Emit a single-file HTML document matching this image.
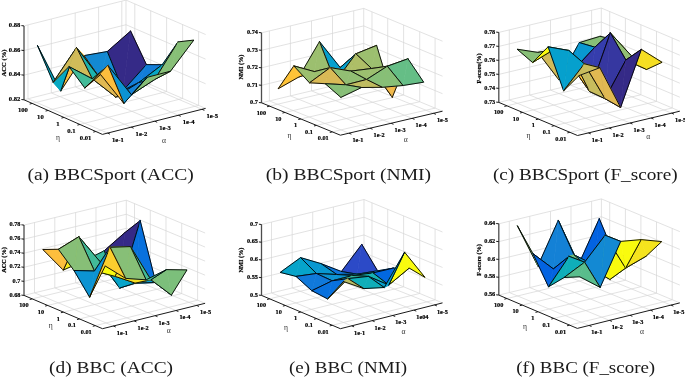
<!DOCTYPE html>
<html><head><meta charset="utf-8"><title>Parameter sensitivity</title>
<style>
html,body{margin:0;padding:0;background:#fff}
svg{display:block}
.g{stroke:#d6d6d6;stroke-width:0.7;fill:none}
.ax{stroke:#1a1a1a;stroke-width:1;fill:none}
.az{stroke:#4d4d4d;stroke-width:1.3;fill:none}
.e{stroke:#000;stroke-width:0.9;fill:none;stroke-linejoin:round;stroke-linecap:round}
.t,.u{font-family:"Liberation Serif",serif;font-weight:bold;font-size:6.6px;fill:#000;stroke:#000;stroke-width:0.2}
.u{font-size:6.25px}
.s{font-family:"Liberation Serif",serif;font-size:7.6px;fill:#333}
.c{font-family:"Liberation Serif",serif;font-size:16.6px;fill:#1a1a1a}
</style></head><body>
<svg width="685" height="377" viewBox="0 0 685 377">
<rect width="685" height="377" fill="#fff"/>
<path class="g" d="M107.6 133.09L28 98.79"/>
<path class="g" d="M28 98.79L28 24.89"/>
<path class="g" d="M32.2 103.42L134.8 77.8"/>
<path class="g" d="M134.8 77.8L134.8 3.9"/>
<path class="g" d="M131.2 127.14L51.3 92.89"/>
<path class="g" d="M51.3 92.89L51.3 18.99"/>
<path class="g" d="M48.1 110.44L150.7 84.67"/>
<path class="g" d="M150.7 84.67L150.7 10.77"/>
<path class="g" d="M154.8 121.2L75.2 86.85"/>
<path class="g" d="M75.2 86.85L75.2 12.95"/>
<path class="g" d="M64 117.45L166.6 91.55"/>
<path class="g" d="M166.6 91.55L166.6 17.65"/>
<path class="g" d="M178.4 115.25L98.6 80.93"/>
<path class="g" d="M98.6 80.93L98.6 7.03"/>
<path class="g" d="M79.9 124.47L182.6 98.46"/>
<path class="g" d="M182.6 98.46L182.6 24.56"/>
<path class="g" d="M202 109.31L121.8 75.06"/>
<path class="g" d="M121.8 75.06L121.8 1.16"/>
<path class="g" d="M95.8 131.49L198.6 105.37"/>
<path class="g" d="M198.6 105.37L198.6 31.47"/>
<path class="g" d="M24 99.8L126 74L205.6 108.4"/>
<path class="g" d="M24 75.17L126 49.37L205.6 83.77"/>
<path class="g" d="M24 50.53L126 24.73L205.6 59.13"/>
<path class="g" d="M24 25.9L126 0.1L205.6 34.5"/>
<path class="g" d="M126 74L126 0.1"/>
<path fill="#352a87" stroke="#352a87" stroke-width="0.7" d="M123.1 90.5L130.6 31L107.3 51.5Z"/>
<path class="e" d="M130.6 31L107.3 51.5L123.1 90.5"/>
<path fill="#352a87" stroke="#352a87" stroke-width="0.7" d="M123.1 90.5L146.4 64.6L130.6 31Z"/>
<path class="e" d="M123.1 90.5L146.4 64.6L130.6 31"/>
<path fill="#1389d3" stroke="#1389d3" stroke-width="0.7" d="M99.8 78L107.3 51.5L84 55.6Z"/>
<path class="e" d="M107.3 51.5L84 55.6L99.8 78"/>
<path fill="#1389d3" stroke="#1389d3" stroke-width="0.7" d="M99.8 78L123.1 90.5L107.3 51.5Z"/>
<path class="e" d="M99.8 78L123.1 90.5L107.3 51.5"/>
<path fill="#fdbe3d" stroke="#fdbe3d" stroke-width="0.7" d="M76.5 47.5L84 55.6L60.7 91Z"/>
<path class="e" d="M84 55.6L60.7 91L76.5 47.5"/>
<path fill="#fdbe3d" stroke="#fdbe3d" stroke-width="0.7" d="M76.5 47.5L99.8 78L84 55.6Z"/>
<path class="e" d="M76.5 47.5L99.8 78L84 55.6"/>
<path fill="#07a9c2" stroke="#07a9c2" stroke-width="0.7" d="M53.2 82.3L60.7 91L37.4 45.3Z"/>
<path class="e" d="M60.7 91L37.4 45.3L53.2 82.3"/>
<path fill="#07a9c2" stroke="#07a9c2" stroke-width="0.7" d="M53.2 82.3L76.5 47.5L60.7 91Z"/>
<path class="e" d="M53.2 82.3L76.5 47.5L60.7 91"/>
<path fill="#127dd8" stroke="#127dd8" stroke-width="0.7" d="M138.9 82.5L146.4 64.6L123.1 90.5Z"/>
<path class="e" d="M146.4 64.6L123.1 90.5L138.9 82.5"/>
<path fill="#127dd8" stroke="#127dd8" stroke-width="0.7" d="M138.9 82.5L162.2 64.7L146.4 64.6Z"/>
<path class="e" d="M138.9 82.5L162.2 64.7L146.4 64.6"/>
<path fill="#1181d6" stroke="#1181d6" stroke-width="0.7" d="M115.6 96.9L123.1 90.5L99.8 78Z"/>
<path class="e" d="M123.1 90.5L99.8 78L115.6 96.9"/>
<path fill="#1181d6" stroke="#1181d6" stroke-width="0.7" d="M115.6 96.9L138.9 82.5L123.1 90.5Z"/>
<path class="e" d="M115.6 96.9L138.9 82.5L123.1 90.5"/>
<path fill="#1db3af" stroke="#1db3af" stroke-width="0.7" d="M92.3 78.8L99.8 78L76.5 47.5Z"/>
<path class="e" d="M99.8 78L76.5 47.5L92.3 78.8"/>
<path fill="#1db3af" stroke="#1db3af" stroke-width="0.7" d="M92.3 78.8L115.6 96.9L99.8 78Z"/>
<path class="e" d="M92.3 78.8L115.6 96.9L99.8 78"/>
<path fill="#d1bb59" stroke="#d1bb59" stroke-width="0.7" d="M69 66.6L76.5 47.5L53.2 82.3Z"/>
<path class="e" d="M76.5 47.5L53.2 82.3L69 66.6"/>
<path fill="#d1bb59" stroke="#d1bb59" stroke-width="0.7" d="M69 66.6L92.3 78.8L76.5 47.5Z"/>
<path class="e" d="M69 66.6L92.3 78.8L76.5 47.5"/>
<path fill="#06a7c6" stroke="#06a7c6" stroke-width="0.7" d="M154.7 79.5L162.2 64.7L138.9 82.5Z"/>
<path class="e" d="M162.2 64.7L138.9 82.5L154.7 79.5"/>
<path fill="#06a7c6" stroke="#06a7c6" stroke-width="0.7" d="M154.7 79.5L178 41.9L162.2 64.7Z"/>
<path class="e" d="M154.7 79.5L178 41.9L162.2 64.7"/>
<path fill="#1481d6" stroke="#1481d6" stroke-width="0.7" d="M131.4 94.7L138.9 82.5L115.6 96.9Z"/>
<path class="e" d="M138.9 82.5L115.6 96.9L131.4 94.7"/>
<path fill="#1481d6" stroke="#1481d6" stroke-width="0.7" d="M131.4 94.7L154.7 79.5L138.9 82.5Z"/>
<path class="e" d="M131.4 94.7L154.7 79.5L138.9 82.5"/>
<path fill="#e1b952" stroke="#e1b952" stroke-width="0.7" d="M108.1 65.7L115.6 96.9L92.3 78.8Z"/>
<path class="e" d="M115.6 96.9L92.3 78.8L108.1 65.7"/>
<path fill="#e1b952" stroke="#e1b952" stroke-width="0.7" d="M108.1 65.7L131.4 94.7L115.6 96.9Z"/>
<path class="e" d="M108.1 65.7L131.4 94.7L115.6 96.9"/>
<path fill="#42bb98" stroke="#42bb98" stroke-width="0.7" d="M84.8 88L92.3 78.8L69 66.6Z"/>
<path class="e" d="M92.3 78.8L69 66.6L84.8 88"/>
<path fill="#42bb98" stroke="#42bb98" stroke-width="0.7" d="M84.8 88L108.1 65.7L92.3 78.8Z"/>
<path class="e" d="M84.8 88L108.1 65.7L92.3 78.8"/>
<path fill="#87bf77" stroke="#87bf77" stroke-width="0.7" d="M170.5 71.2L178 41.9L154.7 79.5Z"/>
<path class="e" d="M178 41.9L154.7 79.5L170.5 71.2"/>
<path fill="#87bf77" stroke="#87bf77" stroke-width="0.7" d="M170.5 71.2L193.8 40.1L178 41.9Z"/>
<path class="e" d="M170.5 71.2L193.8 40.1L178 41.9"/>
<path fill="#87bf77" stroke="#87bf77" stroke-width="0.7" d="M147.2 77.3L154.7 79.5L131.4 94.7Z"/>
<path class="e" d="M154.7 79.5L131.4 94.7L147.2 77.3"/>
<path fill="#87bf77" stroke="#87bf77" stroke-width="0.7" d="M147.2 77.3L170.5 71.2L154.7 79.5Z"/>
<path class="e" d="M147.2 77.3L170.5 71.2L154.7 79.5"/>
<path fill="#0c93d2" stroke="#0c93d2" stroke-width="0.7" d="M123.9 103.5L131.4 94.7L108.1 65.7Z"/>
<path class="e" d="M131.4 94.7L108.1 65.7L123.9 103.5"/>
<path fill="#0c93d2" stroke="#0c93d2" stroke-width="0.7" d="M123.9 103.5L147.2 77.3L131.4 94.7Z"/>
<path class="e" d="M123.9 103.5L147.2 77.3L131.4 94.7"/>
<path fill="#fdbe3d" stroke="#fdbe3d" stroke-width="0.7" d="M100.6 74.6L108.1 65.7L84.8 88Z"/>
<path class="e" d="M108.1 65.7L84.8 88L100.6 74.6"/>
<path fill="#fdbe3d" stroke="#fdbe3d" stroke-width="0.7" d="M100.6 74.6L123.9 103.5L108.1 65.7Z"/>
<path class="e" d="M100.6 74.6L123.9 103.5L108.1 65.7"/>
<path class="az" d="M24 25.9L24 99.8"/>
<path class="ax" d="M24 99.8L102.4 134.4"/>
<path class="ax" d="M102.4 134.4L205.6 108.4"/>
<path class="ax" d="M21.4 99.5L24 99.8"/>
<path class="ax" d="M21.4 74.87L24 75.17"/>
<path class="ax" d="M21.4 50.23L24 50.53"/>
<path class="ax" d="M21.4 25.6L24 25.9"/>
<path class="ax" d="M95.8 131.49L93.28 132.12"/>
<path class="ax" d="M79.9 124.47L77.38 125.11"/>
<path class="ax" d="M64 117.45L61.48 118.09"/>
<path class="ax" d="M48.1 110.44L45.58 111.07"/>
<path class="ax" d="M32.2 103.42L29.68 104.05"/>
<path class="ax" d="M107.6 133.09L109.98 134.14"/>
<path class="ax" d="M131.2 127.14L133.58 128.19"/>
<path class="ax" d="M154.8 121.2L157.18 122.25"/>
<path class="ax" d="M178.4 115.25L180.78 116.3"/>
<path class="ax" d="M202 109.31L204.38 110.36"/>
<text class="t" x="20.4" y="101" text-anchor="end">0.82</text>
<text class="t" x="20.4" y="76.37" text-anchor="end">0.84</text>
<text class="t" x="20.4" y="51.73" text-anchor="end">0.86</text>
<text class="t" x="20.4" y="27.1" text-anchor="end">0.88</text>
<text class="t" x="27.8" y="111.82" text-anchor="end">100</text>
<text class="t" x="43.7" y="118.84" text-anchor="end">10</text>
<text class="t" x="59.6" y="125.85" text-anchor="end">1</text>
<text class="t" x="75.5" y="132.87" text-anchor="end">0.1</text>
<text class="t" x="91.4" y="139.89" text-anchor="end">0.01</text>
<text class="t" x="112" y="141.99">1e-1</text>
<text class="t" x="135.6" y="136.04">1e-2</text>
<text class="t" x="159.2" y="130.1">1e-3</text>
<text class="t" x="182.8" y="124.15">1e-4</text>
<text class="t" x="206.4" y="118.21">1e-5</text>
<text class="t" transform="translate(6 63) rotate(-90)" text-anchor="middle">ACC (%)</text>
<text class="s" x="58.1" y="139.9" text-anchor="middle">η</text>
<text class="s" x="163.9" y="142.7" text-anchor="middle">α</text>
<text class="c" x="27.4" y="179.8" textLength="166.5" lengthAdjust="spacingAndGlyphs">(a) BBCSport (ACC)</text>
<path class="g" d="M349 133.18L269.4 100.91"/>
<path class="g" d="M269.4 100.91L269.4 30.91"/>
<path class="g" d="M269.6 106.13L372 81.85"/>
<path class="g" d="M372 81.85L372 11.85"/>
<path class="g" d="M370.1 128.22L290.4 95.9"/>
<path class="g" d="M290.4 95.9L290.4 25.9"/>
<path class="g" d="M285 112.45L387.7 88.39"/>
<path class="g" d="M387.7 88.39L387.7 18.39"/>
<path class="g" d="M391.1 123.28L311.5 90.86"/>
<path class="g" d="M311.5 90.86L311.5 20.86"/>
<path class="g" d="M300.8 118.94L403.6 95.01"/>
<path class="g" d="M403.6 95.01L403.6 25.01"/>
<path class="g" d="M412.1 118.35L332.5 85.85"/>
<path class="g" d="M332.5 85.85L332.5 15.85"/>
<path class="g" d="M316.5 125.39L419.7 101.71"/>
<path class="g" d="M419.7 101.71L419.7 31.71"/>
<path class="g" d="M433.5 113.32L353.7 80.79"/>
<path class="g" d="M353.7 80.79L353.7 10.79"/>
<path class="g" d="M332.3 131.87L435.1 108.12"/>
<path class="g" d="M435.1 108.12L435.1 38.12"/>
<path class="g" d="M261.5 102.8L363.7 78.4L442.5 111.2"/>
<path class="g" d="M261.5 85.3L363.7 60.9L442.5 93.7"/>
<path class="g" d="M261.5 67.8L363.7 43.4L442.5 76.2"/>
<path class="g" d="M261.5 50.3L363.7 25.9L442.5 58.7"/>
<path class="g" d="M261.5 32.8L363.7 8.4L442.5 41.2"/>
<path class="g" d="M363.7 78.4L363.7 8.4"/>
<path fill="#f1b94a" stroke="#f1b94a" stroke-width="0.7" d="M355.9 53.8L360.9 62L340.2 67.5Z"/>
<path class="e" d="M360.9 62L340.2 67.5L355.9 53.8"/>
<path fill="#f1b94a" stroke="#f1b94a" stroke-width="0.7" d="M355.9 53.8L376.6 45.4L360.9 62Z"/>
<path class="e" d="M355.9 53.8L376.6 45.4L360.9 62"/>
<path fill="#06a0cd" stroke="#06a0cd" stroke-width="0.7" d="M335.2 81.8L340.2 67.5L319.5 41.6Z"/>
<path class="e" d="M340.2 67.5L319.5 41.6L335.2 81.8"/>
<path fill="#06a0cd" stroke="#06a0cd" stroke-width="0.7" d="M335.2 81.8L355.9 53.8L340.2 67.5Z"/>
<path class="e" d="M335.2 81.8L355.9 53.8L340.2 67.5"/>
<path fill="#9cbf6f" stroke="#9cbf6f" stroke-width="0.7" d="M314.5 71.6L319.5 41.6L298.8 77Z"/>
<path class="e" d="M319.5 41.6L298.8 77L314.5 71.6"/>
<path fill="#9cbf6f" stroke="#9cbf6f" stroke-width="0.7" d="M314.5 71.6L335.2 81.8L319.5 41.6Z"/>
<path class="e" d="M314.5 71.6L335.2 81.8L319.5 41.6"/>
<path fill="#ffc337" stroke="#ffc337" stroke-width="0.7" d="M293.8 65.9L298.8 77L278.1 88.8Z"/>
<path class="e" d="M298.8 77L278.1 88.8L293.8 65.9"/>
<path fill="#ffc337" stroke="#ffc337" stroke-width="0.7" d="M293.8 65.9L314.5 71.6L298.8 77Z"/>
<path class="e" d="M293.8 65.9L314.5 71.6L298.8 77"/>
<path fill="#9cbf6f" stroke="#9cbf6f" stroke-width="0.7" d="M371.6 68.5L376.6 45.4L355.9 53.8Z"/>
<path class="e" d="M376.6 45.4L355.9 53.8L371.6 68.5"/>
<path fill="#9cbf6f" stroke="#9cbf6f" stroke-width="0.7" d="M371.6 68.5L392.3 97.3L376.6 45.4Z"/>
<path class="e" d="M371.6 68.5L392.3 97.3L376.6 45.4"/>
<path fill="#aebe67" stroke="#aebe67" stroke-width="0.7" d="M350.9 71.1L355.9 53.8L335.2 81.8Z"/>
<path class="e" d="M355.9 53.8L335.2 81.8L350.9 71.1"/>
<path fill="#aebe67" stroke="#aebe67" stroke-width="0.7" d="M350.9 71.1L371.6 68.5L355.9 53.8Z"/>
<path class="e" d="M350.9 71.1L371.6 68.5L355.9 53.8"/>
<path fill="#fdbe3d" stroke="#fdbe3d" stroke-width="0.7" d="M330.2 67.6L335.2 81.8L314.5 71.6Z"/>
<path class="e" d="M335.2 81.8L314.5 71.6L330.2 67.6"/>
<path fill="#fdbe3d" stroke="#fdbe3d" stroke-width="0.7" d="M330.2 67.6L350.9 71.1L335.2 81.8Z"/>
<path class="e" d="M330.2 67.6L350.9 71.1L335.2 81.8"/>
<path fill="#9cbf6f" stroke="#9cbf6f" stroke-width="0.7" d="M309.5 82.8L314.5 71.6L293.8 65.9Z"/>
<path class="e" d="M314.5 71.6L293.8 65.9L309.5 82.8"/>
<path fill="#9cbf6f" stroke="#9cbf6f" stroke-width="0.7" d="M309.5 82.8L330.2 67.6L314.5 71.6Z"/>
<path class="e" d="M309.5 82.8L330.2 67.6L314.5 71.6"/>
<path fill="#f1b94a" stroke="#f1b94a" stroke-width="0.7" d="M387.3 66.2L392.3 97.3L371.6 68.5Z"/>
<path class="e" d="M392.3 97.3L371.6 68.5L387.3 66.2"/>
<path fill="#f1b94a" stroke="#f1b94a" stroke-width="0.7" d="M387.3 66.2L408 58.8L392.3 97.3Z"/>
<path class="e" d="M387.3 66.2L408 58.8L392.3 97.3"/>
<path fill="#9cbf6f" stroke="#9cbf6f" stroke-width="0.7" d="M366.6 79.5L371.6 68.5L350.9 71.1Z"/>
<path class="e" d="M371.6 68.5L350.9 71.1L366.6 79.5"/>
<path fill="#9cbf6f" stroke="#9cbf6f" stroke-width="0.7" d="M366.6 79.5L387.3 66.2L371.6 68.5Z"/>
<path class="e" d="M366.6 79.5L387.3 66.2L371.6 68.5"/>
<path fill="#92bf73" stroke="#92bf73" stroke-width="0.7" d="M345.9 84.8L350.9 71.1L330.2 67.6Z"/>
<path class="e" d="M350.9 71.1L330.2 67.6L345.9 84.8"/>
<path fill="#92bf73" stroke="#92bf73" stroke-width="0.7" d="M345.9 84.8L366.6 79.5L350.9 71.1Z"/>
<path class="e" d="M345.9 84.8L366.6 79.5L350.9 71.1"/>
<path fill="#d9ba56" stroke="#d9ba56" stroke-width="0.7" d="M325.2 83.7L330.2 67.6L309.5 82.8Z"/>
<path class="e" d="M330.2 67.6L309.5 82.8L325.2 83.7"/>
<path fill="#d9ba56" stroke="#d9ba56" stroke-width="0.7" d="M325.2 83.7L345.9 84.8L330.2 67.6Z"/>
<path class="e" d="M325.2 83.7L345.9 84.8L330.2 67.6"/>
<path fill="#65be86" stroke="#65be86" stroke-width="0.7" d="M403 85.5L408 58.8L387.3 66.2Z"/>
<path class="e" d="M408 58.8L387.3 66.2L403 85.5"/>
<path fill="#65be86" stroke="#65be86" stroke-width="0.7" d="M403 85.5L423.7 82.2L408 58.8Z"/>
<path class="e" d="M403 85.5L423.7 82.2L408 58.8"/>
<path fill="#87bf77" stroke="#87bf77" stroke-width="0.7" d="M382.3 87.3L387.3 66.2L366.6 79.5Z"/>
<path class="e" d="M387.3 66.2L366.6 79.5L382.3 87.3"/>
<path fill="#87bf77" stroke="#87bf77" stroke-width="0.7" d="M382.3 87.3L403 85.5L387.3 66.2Z"/>
<path class="e" d="M382.3 87.3L403 85.5L387.3 66.2"/>
<path fill="#c0bc60" stroke="#c0bc60" stroke-width="0.7" d="M361.6 87.5L366.6 79.5L345.9 84.8Z"/>
<path class="e" d="M366.6 79.5L345.9 84.8L361.6 87.5"/>
<path fill="#c0bc60" stroke="#c0bc60" stroke-width="0.7" d="M361.6 87.5L382.3 87.3L366.6 79.5Z"/>
<path class="e" d="M361.6 87.5L382.3 87.3L366.6 79.5"/>
<path fill="#87bf77" stroke="#87bf77" stroke-width="0.7" d="M340.9 97.4L345.9 84.8L325.2 83.7Z"/>
<path class="e" d="M345.9 84.8L325.2 83.7L340.9 97.4"/>
<path fill="#87bf77" stroke="#87bf77" stroke-width="0.7" d="M340.9 97.4L361.6 87.5L345.9 84.8Z"/>
<path class="e" d="M340.9 97.4L361.6 87.5L345.9 84.8"/>
<path class="az" d="M261.5 32.8L261.5 102.8"/>
<path class="ax" d="M261.5 102.8L340.4 135.2"/>
<path class="ax" d="M340.4 135.2L442.5 111.2"/>
<path class="ax" d="M258.9 102.5L261.5 102.8"/>
<path class="ax" d="M258.9 85L261.5 85.3"/>
<path class="ax" d="M258.9 67.5L261.5 67.8"/>
<path class="ax" d="M258.9 50L261.5 50.3"/>
<path class="ax" d="M258.9 32.5L261.5 32.8"/>
<path class="ax" d="M332.3 131.87L329.77 132.47"/>
<path class="ax" d="M316.5 125.39L313.97 125.98"/>
<path class="ax" d="M300.8 118.94L298.27 119.53"/>
<path class="ax" d="M285 112.45L282.47 113.05"/>
<path class="ax" d="M269.6 106.13L267.07 106.72"/>
<path class="ax" d="M349 133.18L351.41 134.17"/>
<path class="ax" d="M370.1 128.22L372.51 129.21"/>
<path class="ax" d="M391.1 123.28L393.51 124.27"/>
<path class="ax" d="M412.1 118.35L414.51 119.33"/>
<path class="ax" d="M433.5 113.32L435.91 114.3"/>
<text class="u" x="257.9" y="104" text-anchor="end">0.7</text>
<text class="u" x="257.9" y="86.5" text-anchor="end">0.71</text>
<text class="u" x="257.9" y="69" text-anchor="end">0.72</text>
<text class="u" x="257.9" y="51.5" text-anchor="end">0.73</text>
<text class="u" x="257.9" y="34" text-anchor="end">0.74</text>
<text class="u" x="266" y="114.53" text-anchor="end">100</text>
<text class="u" x="281.4" y="120.85" text-anchor="end">10</text>
<text class="u" x="297.2" y="127.34" text-anchor="end">1</text>
<text class="u" x="312.9" y="133.79" text-anchor="end">0.1</text>
<text class="u" x="328.7" y="140.27" text-anchor="end">0.01</text>
<text class="u" x="352.4" y="142.08">1e-1</text>
<text class="u" x="373.5" y="137.12">1e-2</text>
<text class="u" x="394.5" y="132.18">1e-3</text>
<text class="u" x="415.5" y="127.25">1e-4</text>
<text class="u" x="436.9" y="122.22">1e-5</text>
<text class="u" transform="translate(243.3 67) rotate(-90)" text-anchor="middle">NMI (%)</text>
<text class="s" x="289.6" y="137.8" text-anchor="middle">η</text>
<text class="s" x="405.7" y="142.3" text-anchor="middle">α</text>
<text class="c" x="265.8" y="179.8" textLength="165.3" lengthAdjust="spacingAndGlyphs">(b) BBCSport (NMI)</text>
<path class="g" d="M588.4 132.91L509.3 99.9"/>
<path class="g" d="M509.3 99.9L509.3 29.9"/>
<path class="g" d="M506.9 105.81L609.7 81.55"/>
<path class="g" d="M609.7 81.55L609.7 11.55"/>
<path class="g" d="M609.1 127.99L529.7 95.04"/>
<path class="g" d="M529.7 95.04L529.7 25.04"/>
<path class="g" d="M522.6 112.41L625.4 88.19"/>
<path class="g" d="M625.4 88.19L625.4 18.19"/>
<path class="g" d="M630.1 123.01L550.5 90.09"/>
<path class="g" d="M550.5 90.09L550.5 20.09"/>
<path class="g" d="M538.4 119.06L640.9 94.75"/>
<path class="g" d="M640.9 94.75L640.9 24.75"/>
<path class="g" d="M651.1 118.02L570.9 85.24"/>
<path class="g" d="M570.9 85.24L570.9 15.24"/>
<path class="g" d="M554.2 125.7L656.5 101.35"/>
<path class="g" d="M656.5 101.35L656.5 31.35"/>
<path class="g" d="M671.6 113.15L591.6 80.31"/>
<path class="g" d="M591.6 80.31L591.6 10.31"/>
<path class="g" d="M569.9 132.3L672.2 107.99"/>
<path class="g" d="M672.2 107.99L672.2 37.99"/>
<path class="g" d="M498.8 102.4L601.3 78L679.8 111.2"/>
<path class="g" d="M498.8 88.4L601.3 64L679.8 97.2"/>
<path class="g" d="M498.8 74.4L601.3 50L679.8 83.2"/>
<path class="g" d="M498.8 60.4L601.3 36L679.8 69.2"/>
<path class="g" d="M498.8 46.4L601.3 22L679.8 55.2"/>
<path class="g" d="M498.8 32.4L601.3 8L679.8 41.2"/>
<path class="g" d="M601.3 78L601.3 8"/>
<path fill="#87bf77" stroke="#87bf77" stroke-width="0.7" d="M594.85 47.2L600.1 36.3L579.35 42.6Z"/>
<path class="e" d="M600.1 36.3L579.35 42.6L594.85 47.2"/>
<path fill="#87bf77" stroke="#87bf77" stroke-width="0.7" d="M594.85 47.2L615.6 40L600.1 36.3Z"/>
<path class="e" d="M594.85 47.2L615.6 40L600.1 36.3"/>
<path fill="#0998d1" stroke="#0998d1" stroke-width="0.7" d="M574.1 69.5L579.35 42.6L558.6 79.5Z"/>
<path class="e" d="M579.35 42.6L558.6 79.5L574.1 69.5"/>
<path fill="#0998d1" stroke="#0998d1" stroke-width="0.7" d="M574.1 69.5L594.85 47.2L579.35 42.6Z"/>
<path class="e" d="M574.1 69.5L594.85 47.2L579.35 42.6"/>
<path fill="#d1bb59" stroke="#d1bb59" stroke-width="0.7" d="M553.35 49.8L558.6 79.5L537.85 52.4Z"/>
<path class="e" d="M558.6 79.5L537.85 52.4L553.35 49.8"/>
<path fill="#d1bb59" stroke="#d1bb59" stroke-width="0.7" d="M553.35 49.8L574.1 69.5L558.6 79.5Z"/>
<path class="e" d="M553.35 49.8L574.1 69.5L558.6 79.5"/>
<path fill="#87bf77" stroke="#87bf77" stroke-width="0.7" d="M532.6 62.5L537.85 52.4L517.1 49.2Z"/>
<path class="e" d="M537.85 52.4L517.1 49.2L532.6 62.5"/>
<path fill="#87bf77" stroke="#87bf77" stroke-width="0.7" d="M532.6 62.5L553.35 49.8L537.85 52.4Z"/>
<path class="e" d="M532.6 62.5L553.35 49.8L537.85 52.4"/>
<path fill="#f9fb0e" stroke="#f9fb0e" stroke-width="0.7" d="M610.35 32.9L615.6 40L594.85 47.2Z"/>
<path class="e" d="M615.6 40L594.85 47.2L610.35 32.9"/>
<path fill="#f9fb0e" stroke="#f9fb0e" stroke-width="0.7" d="M610.35 32.9L631.1 55.5L615.6 40Z"/>
<path class="e" d="M610.35 32.9L631.1 55.5L615.6 40"/>
<path fill="#353dad" stroke="#353dad" stroke-width="0.7" d="M589.6 91.5L594.85 47.2L574.1 69.5Z"/>
<path class="e" d="M594.85 47.2L574.1 69.5L589.6 91.5"/>
<path fill="#353dad" stroke="#353dad" stroke-width="0.7" d="M589.6 91.5L610.35 32.9L594.85 47.2Z"/>
<path class="e" d="M589.6 91.5L610.35 32.9L594.85 47.2"/>
<path fill="#ffc337" stroke="#ffc337" stroke-width="0.7" d="M568.85 50.5L574.1 69.5L553.35 49.8Z"/>
<path class="e" d="M574.1 69.5L553.35 49.8L568.85 50.5"/>
<path fill="#ffc337" stroke="#ffc337" stroke-width="0.7" d="M568.85 50.5L589.6 91.5L574.1 69.5Z"/>
<path class="e" d="M568.85 50.5L589.6 91.5L574.1 69.5"/>
<path fill="#f9fb0e" stroke="#f9fb0e" stroke-width="0.7" d="M548.1 46.8L553.35 49.8L532.6 62.5Z"/>
<path class="e" d="M553.35 49.8L532.6 62.5L548.1 46.8"/>
<path fill="#f9fb0e" stroke="#f9fb0e" stroke-width="0.7" d="M548.1 46.8L568.85 50.5L553.35 49.8Z"/>
<path class="e" d="M548.1 46.8L568.85 50.5L553.35 49.8"/>
<path fill="#92bf73" stroke="#92bf73" stroke-width="0.7" d="M625.85 60L631.1 55.5L610.35 32.9Z"/>
<path class="e" d="M631.1 55.5L610.35 32.9L625.85 60"/>
<path fill="#92bf73" stroke="#92bf73" stroke-width="0.7" d="M625.85 60L646.6 69.5L631.1 55.5Z"/>
<path class="e" d="M625.85 60L646.6 69.5L631.1 55.5"/>
<path fill="#3637a0" stroke="#3637a0" stroke-width="0.7" d="M605.1 98.7L610.35 32.9L589.6 91.5Z"/>
<path class="e" d="M610.35 32.9L589.6 91.5L605.1 98.7"/>
<path fill="#3637a0" stroke="#3637a0" stroke-width="0.7" d="M605.1 98.7L625.85 60L610.35 32.9Z"/>
<path class="e" d="M605.1 98.7L625.85 60L610.35 32.9"/>
<path fill="#c8bc5d" stroke="#c8bc5d" stroke-width="0.7" d="M584.35 63.8L589.6 91.5L568.85 50.5Z"/>
<path class="e" d="M589.6 91.5L568.85 50.5L584.35 63.8"/>
<path fill="#c8bc5d" stroke="#c8bc5d" stroke-width="0.7" d="M584.35 63.8L605.1 98.7L589.6 91.5Z"/>
<path class="e" d="M584.35 63.8L605.1 98.7L589.6 91.5"/>
<path fill="#06a0cd" stroke="#06a0cd" stroke-width="0.7" d="M563.6 90.8L568.85 50.5L548.1 46.8Z"/>
<path class="e" d="M568.85 50.5L548.1 46.8L563.6 90.8"/>
<path fill="#06a0cd" stroke="#06a0cd" stroke-width="0.7" d="M563.6 90.8L584.35 63.8L568.85 50.5Z"/>
<path class="e" d="M563.6 90.8L584.35 63.8L568.85 50.5"/>
<path fill="#f5de21" stroke="#f5de21" stroke-width="0.7" d="M641.35 49.4L646.6 69.5L625.85 60Z"/>
<path class="e" d="M646.6 69.5L625.85 60L641.35 49.4"/>
<path fill="#f5de21" stroke="#f5de21" stroke-width="0.7" d="M641.35 49.4L662.1 62.3L646.6 69.5Z"/>
<path class="e" d="M641.35 49.4L662.1 62.3L646.6 69.5"/>
<path fill="#352a87" stroke="#352a87" stroke-width="0.7" d="M620.6 107.5L625.85 60L605.1 98.7Z"/>
<path class="e" d="M625.85 60L605.1 98.7L620.6 107.5"/>
<path fill="#352a87" stroke="#352a87" stroke-width="0.7" d="M620.6 107.5L641.35 49.4L625.85 60Z"/>
<path class="e" d="M620.6 107.5L641.35 49.4L625.85 60"/>
<path fill="#e1b952" stroke="#e1b952" stroke-width="0.7" d="M599.85 67.7L605.1 98.7L584.35 63.8Z"/>
<path class="e" d="M605.1 98.7L584.35 63.8L599.85 67.7"/>
<path fill="#e1b952" stroke="#e1b952" stroke-width="0.7" d="M599.85 67.7L620.6 107.5L605.1 98.7Z"/>
<path class="e" d="M599.85 67.7L620.6 107.5L605.1 98.7"/>
<path fill="#c8bc5d" stroke="#c8bc5d" stroke-width="0.7" d="M579.1 75.6L584.35 63.8L563.6 90.8Z"/>
<path class="e" d="M584.35 63.8L563.6 90.8L579.1 75.6"/>
<path fill="#c8bc5d" stroke="#c8bc5d" stroke-width="0.7" d="M579.1 75.6L599.85 67.7L584.35 63.8Z"/>
<path class="e" d="M579.1 75.6L599.85 67.7L584.35 63.8"/>
<path class="az" d="M498.8 32.4L498.8 102.4"/>
<path class="ax" d="M498.8 102.4L577.5 135.5"/>
<path class="ax" d="M577.5 135.5L679.8 111.2"/>
<path class="ax" d="M496.2 102.1L498.8 102.4"/>
<path class="ax" d="M496.2 88.1L498.8 88.4"/>
<path class="ax" d="M496.2 74.1L498.8 74.4"/>
<path class="ax" d="M496.2 60.1L498.8 60.4"/>
<path class="ax" d="M496.2 46.1L498.8 46.4"/>
<path class="ax" d="M496.2 32.1L498.8 32.4"/>
<path class="ax" d="M569.9 132.3L567.37 132.9"/>
<path class="ax" d="M554.2 125.7L551.67 126.3"/>
<path class="ax" d="M538.4 119.06L535.87 119.66"/>
<path class="ax" d="M522.6 112.41L520.07 113.01"/>
<path class="ax" d="M506.9 105.81L504.37 106.41"/>
<path class="ax" d="M588.4 132.91L590.8 133.92"/>
<path class="ax" d="M609.1 127.99L611.5 129"/>
<path class="ax" d="M630.1 123.01L632.5 124.01"/>
<path class="ax" d="M651.1 118.02L653.5 119.03"/>
<path class="ax" d="M671.6 113.15L674 114.16"/>
<text class="u" x="495.2" y="103.6" text-anchor="end">0.73</text>
<text class="u" x="495.2" y="89.6" text-anchor="end">0.74</text>
<text class="u" x="495.2" y="75.6" text-anchor="end">0.75</text>
<text class="u" x="495.2" y="61.6" text-anchor="end">0.76</text>
<text class="u" x="495.2" y="47.6" text-anchor="end">0.77</text>
<text class="u" x="495.2" y="33.6" text-anchor="end">0.78</text>
<text class="u" x="503.3" y="114.21" text-anchor="end">100</text>
<text class="u" x="519" y="120.81" text-anchor="end">10</text>
<text class="u" x="534.8" y="127.46" text-anchor="end">1</text>
<text class="u" x="550.6" y="134.1" text-anchor="end">0.1</text>
<text class="u" x="566.3" y="140.7" text-anchor="end">0.01</text>
<text class="u" x="591.8" y="141.81">1e-1</text>
<text class="u" x="612.5" y="136.89">1e-2</text>
<text class="u" x="633.5" y="131.91">1e-3</text>
<text class="u" x="654.5" y="126.92">1e-4</text>
<text class="u" x="675" y="122.05">1e-5</text>
<text class="u" transform="translate(481.2 68.5) rotate(-90)" text-anchor="middle">F-score(%)</text>
<text class="s" x="528.6" y="137.8" text-anchor="middle">η</text>
<text class="s" x="648.2" y="138.8" text-anchor="middle">α</text>
<text class="c" x="492.9" y="179.8" textLength="184.8" lengthAdjust="spacingAndGlyphs">(c) BBCSport (F_score)</text>
<path class="g" d="M113.4 326L34.5 292.84"/>
<path class="g" d="M34.5 292.84L34.5 222.54"/>
<path class="g" d="M32.2 298.88L134.5 273.91"/>
<path class="g" d="M134.5 273.91L134.5 203.61"/>
<path class="g" d="M134.1 320.88L54.8 287.9"/>
<path class="g" d="M54.8 287.9L54.8 217.6"/>
<path class="g" d="M47.7 305.45L150.3 280.49"/>
<path class="g" d="M150.3 280.49L150.3 210.19"/>
<path class="g" d="M155.1 315.68L75.6 282.84"/>
<path class="g" d="M75.6 282.84L75.6 212.54"/>
<path class="g" d="M63.4 312.11L166 287.02"/>
<path class="g" d="M166 287.02L166 216.72"/>
<path class="g" d="M176 310.5L96 277.88"/>
<path class="g" d="M96 277.88L96 207.58"/>
<path class="g" d="M79.5 318.94L181.7 293.56"/>
<path class="g" d="M181.7 293.56L181.7 223.26"/>
<path class="g" d="M196.6 305.4L116.5 272.89"/>
<path class="g" d="M116.5 272.89L116.5 202.59"/>
<path class="g" d="M95.3 325.65L197.6 300.18"/>
<path class="g" d="M197.6 300.18L197.6 229.88"/>
<path class="g" d="M24 295.4L126.3 270.5L205.1 303.3"/>
<path class="g" d="M24 281.34L126.3 256.44L205.1 289.24"/>
<path class="g" d="M24 267.28L126.3 242.38L205.1 275.18"/>
<path class="g" d="M24 253.22L126.3 228.32L205.1 261.12"/>
<path class="g" d="M24 239.16L126.3 214.26L205.1 247.06"/>
<path class="g" d="M24 225.1L126.3 200.2L205.1 233"/>
<path class="g" d="M126.3 270.5L126.3 200.2"/>
<path fill="#352a87" stroke="#352a87" stroke-width="0.7" d="M119.75 288L124.6 232.8L104.15 250.8Z"/>
<path class="e" d="M124.6 232.8L104.15 250.8L119.75 288"/>
<path fill="#352a87" stroke="#352a87" stroke-width="0.7" d="M119.75 288L140.2 220.6L124.6 232.8Z"/>
<path class="e" d="M119.75 288L140.2 220.6L124.6 232.8"/>
<path fill="#38b99e" stroke="#38b99e" stroke-width="0.7" d="M99.3 260.8L104.15 250.8L83.7 261Z"/>
<path class="e" d="M104.15 250.8L83.7 261L99.3 260.8"/>
<path fill="#38b99e" stroke="#38b99e" stroke-width="0.7" d="M99.3 260.8L119.75 288L104.15 250.8Z"/>
<path class="e" d="M99.3 260.8L119.75 288L104.15 250.8"/>
<path fill="#f5eb18" stroke="#f5eb18" stroke-width="0.7" d="M78.85 236.7L83.7 261L63.25 270.1Z"/>
<path class="e" d="M83.7 261L63.25 270.1L78.85 236.7"/>
<path fill="#f5eb18" stroke="#f5eb18" stroke-width="0.7" d="M78.85 236.7L99.3 260.8L83.7 261Z"/>
<path class="e" d="M78.85 236.7L99.3 260.8L83.7 261"/>
<path fill="#fdbe3d" stroke="#fdbe3d" stroke-width="0.7" d="M58.4 249.3L63.25 270.1L42.8 249.5Z"/>
<path class="e" d="M63.25 270.1L42.8 249.5L58.4 249.3"/>
<path fill="#fdbe3d" stroke="#fdbe3d" stroke-width="0.7" d="M58.4 249.3L78.85 236.7L63.25 270.1Z"/>
<path class="e" d="M58.4 249.3L78.85 236.7L63.25 270.1"/>
<path fill="#0871de" stroke="#0871de" stroke-width="0.7" d="M135.35 283.1L140.2 220.6L119.75 288Z"/>
<path class="e" d="M140.2 220.6L119.75 288L135.35 283.1"/>
<path fill="#0871de" stroke="#0871de" stroke-width="0.7" d="M135.35 283.1L155.8 282.5L140.2 220.6Z"/>
<path class="e" d="M135.35 283.1L155.8 282.5L140.2 220.6"/>
<path fill="#06a4ca" stroke="#06a4ca" stroke-width="0.7" d="M114.9 276.3L119.75 288L99.3 260.8Z"/>
<path class="e" d="M119.75 288L99.3 260.8L114.9 276.3"/>
<path fill="#06a4ca" stroke="#06a4ca" stroke-width="0.7" d="M114.9 276.3L135.35 283.1L119.75 288Z"/>
<path class="e" d="M114.9 276.3L135.35 283.1L119.75 288"/>
<path fill="#42bb98" stroke="#42bb98" stroke-width="0.7" d="M94.45 271L99.3 260.8L78.85 236.7Z"/>
<path class="e" d="M99.3 260.8L78.85 236.7L94.45 271"/>
<path fill="#42bb98" stroke="#42bb98" stroke-width="0.7" d="M94.45 271L114.9 276.3L99.3 260.8Z"/>
<path class="e" d="M94.45 271L114.9 276.3L99.3 260.8"/>
<path fill="#87bf77" stroke="#87bf77" stroke-width="0.7" d="M74 270.5L78.85 236.7L58.4 249.3Z"/>
<path class="e" d="M78.85 236.7L58.4 249.3L74 270.5"/>
<path fill="#87bf77" stroke="#87bf77" stroke-width="0.7" d="M74 270.5L94.45 271L78.85 236.7Z"/>
<path class="e" d="M74 270.5L94.45 271L78.85 236.7"/>
<path fill="#079ccf" stroke="#079ccf" stroke-width="0.7" d="M150.95 279.8L155.8 282.5L135.35 283.1Z"/>
<path class="e" d="M155.8 282.5L135.35 283.1L150.95 279.8"/>
<path fill="#079ccf" stroke="#079ccf" stroke-width="0.7" d="M150.95 279.8L171.4 295.1L155.8 282.5Z"/>
<path class="e" d="M150.95 279.8L171.4 295.1L155.8 282.5"/>
<path fill="#f5de21" stroke="#f5de21" stroke-width="0.7" d="M130.5 246.6L135.35 283.1L114.9 276.3Z"/>
<path class="e" d="M135.35 283.1L114.9 276.3L130.5 246.6"/>
<path fill="#f5de21" stroke="#f5de21" stroke-width="0.7" d="M130.5 246.6L150.95 279.8L135.35 283.1Z"/>
<path class="e" d="M130.5 246.6L150.95 279.8L135.35 283.1"/>
<path fill="#f9fb0e" stroke="#f9fb0e" stroke-width="0.7" d="M110.05 247.3L114.9 276.3L94.45 271Z"/>
<path class="e" d="M114.9 276.3L94.45 271L110.05 247.3"/>
<path fill="#f9fb0e" stroke="#f9fb0e" stroke-width="0.7" d="M110.05 247.3L130.5 246.6L114.9 276.3Z"/>
<path class="e" d="M110.05 247.3L130.5 246.6L114.9 276.3"/>
<path fill="#0c93d2" stroke="#0c93d2" stroke-width="0.7" d="M89.6 297.2L94.45 271L74 270.5Z"/>
<path class="e" d="M94.45 271L74 270.5L89.6 297.2"/>
<path fill="#0c93d2" stroke="#0c93d2" stroke-width="0.7" d="M89.6 297.2L110.05 247.3L94.45 271Z"/>
<path class="e" d="M89.6 297.2L110.05 247.3L94.45 271"/>
<path fill="#7cbf7b" stroke="#7cbf7b" stroke-width="0.7" d="M166.55 269.6L171.4 295.1L150.95 279.8Z"/>
<path class="e" d="M171.4 295.1L150.95 279.8L166.55 269.6"/>
<path fill="#7cbf7b" stroke="#7cbf7b" stroke-width="0.7" d="M166.55 269.6L187 269.9L171.4 295.1Z"/>
<path class="e" d="M166.55 269.6L187 269.9L171.4 295.1"/>
<path fill="#42bb98" stroke="#42bb98" stroke-width="0.7" d="M146.1 279.8L150.95 279.8L130.5 246.6Z"/>
<path class="e" d="M150.95 279.8L130.5 246.6L146.1 279.8"/>
<path fill="#42bb98" stroke="#42bb98" stroke-width="0.7" d="M146.1 279.8L166.55 269.6L150.95 279.8Z"/>
<path class="e" d="M146.1 279.8L166.55 269.6L150.95 279.8"/>
<path fill="#87bf77" stroke="#87bf77" stroke-width="0.7" d="M125.65 278.4L130.5 246.6L110.05 247.3Z"/>
<path class="e" d="M130.5 246.6L110.05 247.3L125.65 278.4"/>
<path fill="#87bf77" stroke="#87bf77" stroke-width="0.7" d="M125.65 278.4L146.1 279.8L130.5 246.6Z"/>
<path class="e" d="M125.65 278.4L146.1 279.8L130.5 246.6"/>
<path fill="#fcce2e" stroke="#fcce2e" stroke-width="0.7" d="M105.2 266L110.05 247.3L89.6 297.2Z"/>
<path class="e" d="M110.05 247.3L89.6 297.2L105.2 266"/>
<path fill="#fcce2e" stroke="#fcce2e" stroke-width="0.7" d="M105.2 266L125.65 278.4L110.05 247.3Z"/>
<path class="e" d="M105.2 266L125.65 278.4L110.05 247.3"/>
<path class="az" d="M24 225.1L24 295.4"/>
<path class="ax" d="M24 295.4L102.5 328.7"/>
<path class="ax" d="M102.5 328.7L205.1 303.3"/>
<path class="ax" d="M21.4 295.1L24 295.4"/>
<path class="ax" d="M21.4 281.04L24 281.34"/>
<path class="ax" d="M21.4 266.98L24 267.28"/>
<path class="ax" d="M21.4 252.92L24 253.22"/>
<path class="ax" d="M21.4 238.86L24 239.16"/>
<path class="ax" d="M21.4 224.8L24 225.1"/>
<path class="ax" d="M95.3 325.65L92.78 326.27"/>
<path class="ax" d="M79.5 318.94L76.98 319.57"/>
<path class="ax" d="M63.4 312.11L60.88 312.74"/>
<path class="ax" d="M47.7 305.45L45.18 306.08"/>
<path class="ax" d="M32.2 298.88L29.68 299.5"/>
<path class="ax" d="M113.4 326L115.79 327.02"/>
<path class="ax" d="M134.1 320.88L136.49 321.89"/>
<path class="ax" d="M155.1 315.68L157.49 316.69"/>
<path class="ax" d="M176 310.5L178.39 311.52"/>
<path class="ax" d="M196.6 305.4L198.99 306.42"/>
<text class="u" x="20.4" y="296.6" text-anchor="end">0.68</text>
<text class="u" x="20.4" y="282.54" text-anchor="end">0.7</text>
<text class="u" x="20.4" y="268.48" text-anchor="end">0.72</text>
<text class="u" x="20.4" y="254.42" text-anchor="end">0.74</text>
<text class="u" x="20.4" y="240.36" text-anchor="end">0.76</text>
<text class="u" x="20.4" y="226.3" text-anchor="end">0.78</text>
<text class="u" x="28.6" y="307.28" text-anchor="end">100</text>
<text class="u" x="44.1" y="313.85" text-anchor="end">10</text>
<text class="u" x="59.8" y="320.51" text-anchor="end">1</text>
<text class="u" x="75.9" y="327.34" text-anchor="end">0.1</text>
<text class="u" x="91.7" y="334.05" text-anchor="end">0.01</text>
<text class="u" x="116.8" y="334.9">1e-1</text>
<text class="u" x="137.5" y="329.78">1e-2</text>
<text class="u" x="158.5" y="324.58">1e-3</text>
<text class="u" x="179.4" y="319.4">1e-4</text>
<text class="u" x="200" y="314.3">1e-5</text>
<text class="u" transform="translate(6 260) rotate(-90)" text-anchor="middle">ACC (%)</text>
<text class="s" x="50.8" y="328.2" text-anchor="middle">η</text>
<text class="s" x="168.7" y="333.2" text-anchor="middle">α</text>
<text class="c" x="49" y="372.7" textLength="124.1" lengthAdjust="spacingAndGlyphs">(d) BBC (ACC)</text>
<path class="g" d="M351.7 325.84L271.5 292.96"/>
<path class="g" d="M271.5 292.96L271.5 222.06"/>
<path class="g" d="M269.6 298.82L372 273.71"/>
<path class="g" d="M372 273.71L372 202.81"/>
<path class="g" d="M372.2 320.66L292.2 287.91"/>
<path class="g" d="M292.2 287.91L292.2 217.01"/>
<path class="g" d="M285.4 305.49L387.7 280.21"/>
<path class="g" d="M387.7 280.21L387.7 209.31"/>
<path class="g" d="M392.8 315.46L312.7 282.91"/>
<path class="g" d="M312.7 282.91L312.7 212.01"/>
<path class="g" d="M300.8 311.99L403.6 286.79"/>
<path class="g" d="M403.6 286.79L403.6 215.89"/>
<path class="g" d="M413.9 310.13L333.4 277.86"/>
<path class="g" d="M333.4 277.86L333.4 206.96"/>
<path class="g" d="M316.5 318.61L419.7 293.46"/>
<path class="g" d="M419.7 293.46L419.7 222.56"/>
<path class="g" d="M434.5 304.92L353.7 272.91"/>
<path class="g" d="M353.7 272.91L353.7 202.01"/>
<path class="g" d="M332.3 325.28L435.1 299.84"/>
<path class="g" d="M435.1 299.84L435.1 228.94"/>
<path class="g" d="M261.5 295.4L364 270.4L442.5 302.9"/>
<path class="g" d="M261.5 277.67L364 252.67L442.5 285.17"/>
<path class="g" d="M261.5 259.95L364 234.95L442.5 267.45"/>
<path class="g" d="M261.5 242.22L364 217.22L442.5 249.72"/>
<path class="g" d="M261.5 224.5L364 199.5L442.5 232"/>
<path class="g" d="M364 270.4L364 199.5"/>
<path fill="#2c4ac7" stroke="#2c4ac7" stroke-width="0.7" d="M357.2 274.2L361.8 244.3L341.4 271.5Z"/>
<path class="e" d="M361.8 244.3L341.4 271.5L357.2 274.2"/>
<path fill="#2c4ac7" stroke="#2c4ac7" stroke-width="0.7" d="M357.2 274.2L377.6 270.8L361.8 244.3Z"/>
<path class="e" d="M357.2 274.2L377.6 270.8L361.8 244.3"/>
<path fill="#0d75dc" stroke="#0d75dc" stroke-width="0.7" d="M336.8 274.5L341.4 271.5L321 263.6Z"/>
<path class="e" d="M341.4 271.5L321 263.6L336.8 274.5"/>
<path fill="#0d75dc" stroke="#0d75dc" stroke-width="0.7" d="M336.8 274.5L357.2 274.2L341.4 271.5Z"/>
<path class="e" d="M336.8 274.5L357.2 274.2L341.4 271.5"/>
<path fill="#0998d1" stroke="#0998d1" stroke-width="0.7" d="M316.4 273.5L321 263.6L300.6 257.6Z"/>
<path class="e" d="M321 263.6L300.6 257.6L316.4 273.5"/>
<path fill="#0998d1" stroke="#0998d1" stroke-width="0.7" d="M316.4 273.5L336.8 274.5L321 263.6Z"/>
<path class="e" d="M316.4 273.5L336.8 274.5L321 263.6"/>
<path fill="#06a4ca" stroke="#06a4ca" stroke-width="0.7" d="M296 276.4L300.6 257.6L280.2 272.4Z"/>
<path class="e" d="M300.6 257.6L280.2 272.4L296 276.4"/>
<path fill="#06a4ca" stroke="#06a4ca" stroke-width="0.7" d="M296 276.4L316.4 273.5L300.6 257.6Z"/>
<path class="e" d="M296 276.4L316.4 273.5L300.6 257.6"/>
<path fill="#1485d4" stroke="#1485d4" stroke-width="0.7" d="M373 272.9L377.6 270.8L357.2 274.2Z"/>
<path class="e" d="M377.6 270.8L357.2 274.2L373 272.9"/>
<path fill="#1485d4" stroke="#1485d4" stroke-width="0.7" d="M373 272.9L393.4 268.1L377.6 270.8Z"/>
<path class="e" d="M373 272.9L393.4 268.1L377.6 270.8"/>
<path fill="#0998d1" stroke="#0998d1" stroke-width="0.7" d="M352.6 275.5L357.2 274.2L336.8 274.5Z"/>
<path class="e" d="M357.2 274.2L336.8 274.5L352.6 275.5"/>
<path fill="#0998d1" stroke="#0998d1" stroke-width="0.7" d="M352.6 275.5L373 272.9L357.2 274.2Z"/>
<path class="e" d="M352.6 275.5L373 272.9L357.2 274.2"/>
<path fill="#0c93d2" stroke="#0c93d2" stroke-width="0.7" d="M332.2 280.8L336.8 274.5L316.4 273.5Z"/>
<path class="e" d="M336.8 274.5L316.4 273.5L332.2 280.8"/>
<path fill="#0c93d2" stroke="#0c93d2" stroke-width="0.7" d="M332.2 280.8L352.6 275.5L336.8 274.5Z"/>
<path class="e" d="M332.2 280.8L352.6 275.5L336.8 274.5"/>
<path fill="#1079da" stroke="#1079da" stroke-width="0.7" d="M311.8 290.7L316.4 273.5L296 276.4Z"/>
<path class="e" d="M316.4 273.5L296 276.4L311.8 290.7"/>
<path fill="#1079da" stroke="#1079da" stroke-width="0.7" d="M311.8 290.7L332.2 280.8L316.4 273.5Z"/>
<path class="e" d="M311.8 290.7L332.2 280.8L316.4 273.5"/>
<path fill="#0268e1" stroke="#0268e1" stroke-width="0.7" d="M388.8 285L393.4 268.1L373 272.9Z"/>
<path class="e" d="M393.4 268.1L373 272.9L388.8 285"/>
<path fill="#0268e1" stroke="#0268e1" stroke-width="0.7" d="M388.8 285L409.2 268.1L393.4 268.1Z"/>
<path class="e" d="M388.8 285L409.2 268.1L393.4 268.1"/>
<path fill="#15b1b4" stroke="#15b1b4" stroke-width="0.7" d="M368.4 276.4L373 272.9L352.6 275.5Z"/>
<path class="e" d="M373 272.9L352.6 275.5L368.4 276.4"/>
<path fill="#15b1b4" stroke="#15b1b4" stroke-width="0.7" d="M368.4 276.4L388.8 285L373 272.9Z"/>
<path class="e" d="M368.4 276.4L388.8 285L373 272.9"/>
<path fill="#38b99e" stroke="#38b99e" stroke-width="0.7" d="M348 278.6L352.6 275.5L332.2 280.8Z"/>
<path class="e" d="M352.6 275.5L332.2 280.8L348 278.6"/>
<path fill="#38b99e" stroke="#38b99e" stroke-width="0.7" d="M348 278.6L368.4 276.4L352.6 275.5Z"/>
<path class="e" d="M348 278.6L368.4 276.4L352.6 275.5"/>
<path fill="#0871de" stroke="#0871de" stroke-width="0.7" d="M327.6 298.9L332.2 280.8L311.8 290.7Z"/>
<path class="e" d="M332.2 280.8L311.8 290.7L327.6 298.9"/>
<path fill="#0871de" stroke="#0871de" stroke-width="0.7" d="M327.6 298.9L348 278.6L332.2 280.8Z"/>
<path class="e" d="M327.6 298.9L348 278.6L332.2 280.8"/>
<path fill="#f9fb0e" stroke="#f9fb0e" stroke-width="0.7" d="M404.6 252.2L409.2 268.1L388.8 285Z"/>
<path class="e" d="M409.2 268.1L388.8 285L404.6 252.2"/>
<path fill="#f9fb0e" stroke="#f9fb0e" stroke-width="0.7" d="M404.6 252.2L425 277.4L409.2 268.1Z"/>
<path class="e" d="M404.6 252.2L425 277.4L409.2 268.1"/>
<path fill="#06a0cd" stroke="#06a0cd" stroke-width="0.7" d="M384.2 287.5L388.8 285L368.4 276.4Z"/>
<path class="e" d="M388.8 285L368.4 276.4L384.2 287.5"/>
<path fill="#06a0cd" stroke="#06a0cd" stroke-width="0.7" d="M384.2 287.5L404.6 252.2L388.8 285Z"/>
<path class="e" d="M384.2 287.5L404.6 252.2L388.8 285"/>
<path fill="#0faeb9" stroke="#0faeb9" stroke-width="0.7" d="M363.8 288.6L368.4 276.4L348 278.6Z"/>
<path class="e" d="M368.4 276.4L348 278.6L363.8 288.6"/>
<path fill="#0faeb9" stroke="#0faeb9" stroke-width="0.7" d="M363.8 288.6L384.2 287.5L368.4 276.4Z"/>
<path class="e" d="M363.8 288.6L384.2 287.5L368.4 276.4"/>
<path fill="#b7bd64" stroke="#b7bd64" stroke-width="0.7" d="M343.4 281.5L348 278.6L327.6 298.9Z"/>
<path class="e" d="M348 278.6L327.6 298.9L343.4 281.5"/>
<path fill="#b7bd64" stroke="#b7bd64" stroke-width="0.7" d="M343.4 281.5L363.8 288.6L348 278.6Z"/>
<path class="e" d="M343.4 281.5L363.8 288.6L348 278.6"/>
<path class="az" d="M261.5 224.5L261.5 295.4"/>
<path class="ax" d="M261.5 295.4L340.4 328.7"/>
<path class="ax" d="M340.4 328.7L442.5 302.9"/>
<path class="ax" d="M258.9 295.1L261.5 295.4"/>
<path class="ax" d="M258.9 277.37L261.5 277.67"/>
<path class="ax" d="M258.9 259.65L261.5 259.95"/>
<path class="ax" d="M258.9 241.92L261.5 242.22"/>
<path class="ax" d="M258.9 224.2L261.5 224.5"/>
<path class="ax" d="M332.3 325.28L329.78 325.92"/>
<path class="ax" d="M316.5 318.61L313.98 319.25"/>
<path class="ax" d="M300.8 311.99L298.28 312.62"/>
<path class="ax" d="M285.4 305.49L282.88 306.12"/>
<path class="ax" d="M269.6 298.82L267.08 299.46"/>
<path class="ax" d="M351.7 325.84L354.1 326.86"/>
<path class="ax" d="M372.2 320.66L374.6 321.68"/>
<path class="ax" d="M392.8 315.46L395.2 316.47"/>
<path class="ax" d="M413.9 310.13L416.3 311.14"/>
<path class="ax" d="M434.5 304.92L436.9 305.93"/>
<text class="u" x="257.9" y="296.6" text-anchor="end">0.5</text>
<text class="u" x="257.9" y="278.87" text-anchor="end">0.55</text>
<text class="u" x="257.9" y="261.15" text-anchor="end">0.6</text>
<text class="u" x="257.9" y="243.42" text-anchor="end">0.65</text>
<text class="u" x="257.9" y="225.7" text-anchor="end">0.7</text>
<text class="u" x="266" y="307.22" text-anchor="end">100</text>
<text class="u" x="281.8" y="313.89" text-anchor="end">10</text>
<text class="u" x="297.2" y="320.39" text-anchor="end">1</text>
<text class="u" x="312.9" y="327.01" text-anchor="end">0.1</text>
<text class="u" x="328.7" y="333.68" text-anchor="end">0.01</text>
<text class="u" x="354.1" y="334.74">1e-1</text>
<text class="u" x="374.6" y="329.56">1e-2</text>
<text class="u" x="395.2" y="324.36">1e-3</text>
<text class="u" x="416.3" y="319.03">1e04</text>
<text class="u" x="436.9" y="313.82">1e-5</text>
<text class="u" transform="translate(243.3 260) rotate(-90)" text-anchor="middle">NMI (%)</text>
<text class="s" x="286.1" y="329.6" text-anchor="middle">η</text>
<text class="s" x="403.4" y="334.4" text-anchor="middle">α</text>
<text class="c" x="289" y="372.7" textLength="118.2" lengthAdjust="spacingAndGlyphs">(e) BBC (NMI)</text>
<path class="g" d="M589.1 325.46L509.3 292.55"/>
<path class="g" d="M509.3 292.55L509.3 221.25"/>
<path class="g" d="M506.9 298.54L609.7 273.66"/>
<path class="g" d="M609.7 273.66L609.7 202.36"/>
<path class="g" d="M609.5 320.39L529.8 287.58"/>
<path class="g" d="M529.8 287.58L529.8 216.28"/>
<path class="g" d="M522.3 305.07L625.4 280.21"/>
<path class="g" d="M625.4 280.21L625.4 208.91"/>
<path class="g" d="M630 315.29L550.5 282.55"/>
<path class="g" d="M550.5 282.55L550.5 211.25"/>
<path class="g" d="M538 311.73L640.9 286.68"/>
<path class="g" d="M640.9 286.68L640.9 215.38"/>
<path class="g" d="M650.5 310.19L571 277.58"/>
<path class="g" d="M571 277.58L571 206.28"/>
<path class="g" d="M553.8 318.43L656.5 293.18"/>
<path class="g" d="M656.5 293.18L656.5 221.88"/>
<path class="g" d="M671 305.09L591.6 272.58"/>
<path class="g" d="M591.6 272.58L591.6 201.28"/>
<path class="g" d="M569.6 325.13L672.2 299.73"/>
<path class="g" d="M672.2 299.73L672.2 228.43"/>
<path class="g" d="M498.8 295.1L601.4 270.2L679.8 302.9"/>
<path class="g" d="M498.8 277.28L601.4 252.38L679.8 285.07"/>
<path class="g" d="M498.8 259.45L601.4 234.55L679.8 267.25"/>
<path class="g" d="M498.8 241.63L601.4 216.72L679.8 249.42"/>
<path class="g" d="M498.8 223.8L601.4 198.9L679.8 231.6"/>
<path class="g" d="M601.4 270.2L601.4 198.9"/>
<path fill="#0363e1" stroke="#0363e1" stroke-width="0.7" d="M594.4 265L599.3 218.6L578.8 264Z"/>
<path class="e" d="M599.3 218.6L578.8 264L594.4 265"/>
<path fill="#0363e1" stroke="#0363e1" stroke-width="0.7" d="M594.4 265L614.9 256L599.3 218.6Z"/>
<path class="e" d="M594.4 265L614.9 256L599.3 218.6"/>
<path fill="#0aacbe" stroke="#0aacbe" stroke-width="0.7" d="M573.9 254.8L578.8 264L558.3 220.3Z"/>
<path class="e" d="M578.8 264L558.3 220.3L573.9 254.8"/>
<path fill="#0aacbe" stroke="#0aacbe" stroke-width="0.7" d="M573.9 254.8L594.4 265L578.8 264Z"/>
<path class="e" d="M573.9 254.8L594.4 265L578.8 264"/>
<path fill="#1481d6" stroke="#1481d6" stroke-width="0.7" d="M553.4 268.9L558.3 220.3L537.8 266Z"/>
<path class="e" d="M558.3 220.3L537.8 266L553.4 268.9"/>
<path fill="#1481d6" stroke="#1481d6" stroke-width="0.7" d="M553.4 268.9L573.9 254.8L558.3 220.3Z"/>
<path class="e" d="M553.4 268.9L573.9 254.8L558.3 220.3"/>
<path fill="#87bf77" stroke="#87bf77" stroke-width="0.7" d="M532.9 253.6L537.8 266L517.3 225.6Z"/>
<path class="e" d="M537.8 266L517.3 225.6L532.9 253.6"/>
<path fill="#87bf77" stroke="#87bf77" stroke-width="0.7" d="M532.9 253.6L553.4 268.9L537.8 266Z"/>
<path class="e" d="M532.9 253.6L553.4 268.9L537.8 266"/>
<path fill="#352a87" stroke="#352a87" stroke-width="0.7" d="M610 279.4L614.9 256L594.4 265Z"/>
<path class="e" d="M614.9 256L594.4 265L610 279.4"/>
<path fill="#352a87" stroke="#352a87" stroke-width="0.7" d="M610 279.4L630.5 255L614.9 256Z"/>
<path class="e" d="M610 279.4L630.5 255L614.9 256"/>
<path fill="#108ed2" stroke="#108ed2" stroke-width="0.7" d="M589.5 268L594.4 265L573.9 254.8Z"/>
<path class="e" d="M594.4 265L573.9 254.8L589.5 268"/>
<path fill="#108ed2" stroke="#108ed2" stroke-width="0.7" d="M589.5 268L610 279.4L594.4 265Z"/>
<path class="e" d="M589.5 268L610 279.4L594.4 265"/>
<path fill="#71bf80" stroke="#71bf80" stroke-width="0.7" d="M569 256.3L573.9 254.8L553.4 268.9Z"/>
<path class="e" d="M573.9 254.8L553.4 268.9L569 256.3"/>
<path fill="#71bf80" stroke="#71bf80" stroke-width="0.7" d="M569 256.3L589.5 268L573.9 254.8Z"/>
<path class="e" d="M569 256.3L589.5 268L573.9 254.8"/>
<path fill="#0363e1" stroke="#0363e1" stroke-width="0.7" d="M548.5 286.8L553.4 268.9L532.9 253.6Z"/>
<path class="e" d="M553.4 268.9L532.9 253.6L548.5 286.8"/>
<path fill="#0363e1" stroke="#0363e1" stroke-width="0.7" d="M548.5 286.8L569 256.3L553.4 268.9Z"/>
<path class="e" d="M548.5 286.8L569 256.3L553.4 268.9"/>
<path fill="#0998d1" stroke="#0998d1" stroke-width="0.7" d="M625.6 268.1L630.5 255L610 279.4Z"/>
<path class="e" d="M630.5 255L610 279.4L625.6 268.1"/>
<path fill="#0998d1" stroke="#0998d1" stroke-width="0.7" d="M625.6 268.1L646.1 256.2L630.5 255Z"/>
<path class="e" d="M625.6 268.1L646.1 256.2L630.5 255"/>
<path fill="#f9fb0e" stroke="#f9fb0e" stroke-width="0.7" d="M605.1 235.2L610 279.4L589.5 268Z"/>
<path class="e" d="M610 279.4L589.5 268L605.1 235.2"/>
<path fill="#f9fb0e" stroke="#f9fb0e" stroke-width="0.7" d="M605.1 235.2L625.6 268.1L610 279.4Z"/>
<path class="e" d="M605.1 235.2L625.6 268.1L610 279.4"/>
<path fill="#7cbf7b" stroke="#7cbf7b" stroke-width="0.7" d="M584.6 262.2L589.5 268L569 256.3Z"/>
<path class="e" d="M589.5 268L569 256.3L584.6 262.2"/>
<path fill="#7cbf7b" stroke="#7cbf7b" stroke-width="0.7" d="M584.6 262.2L605.1 235.2L589.5 268Z"/>
<path class="e" d="M584.6 262.2L605.1 235.2L589.5 268"/>
<path fill="#0faeb9" stroke="#0faeb9" stroke-width="0.7" d="M564.1 277.5L569 256.3L548.5 286.8Z"/>
<path class="e" d="M569 256.3L548.5 286.8L564.1 277.5"/>
<path fill="#0faeb9" stroke="#0faeb9" stroke-width="0.7" d="M564.1 277.5L584.6 262.2L569 256.3Z"/>
<path class="e" d="M564.1 277.5L584.6 262.2L569 256.3"/>
<path fill="#f5e41d" stroke="#f5e41d" stroke-width="0.7" d="M641.2 239.6L646.1 256.2L625.6 268.1Z"/>
<path class="e" d="M646.1 256.2L625.6 268.1L641.2 239.6"/>
<path fill="#f5e41d" stroke="#f5e41d" stroke-width="0.7" d="M641.2 239.6L661.7 241.6L646.1 256.2Z"/>
<path class="e" d="M641.2 239.6L661.7 241.6L646.1 256.2"/>
<path fill="#f9fb0e" stroke="#f9fb0e" stroke-width="0.7" d="M620.7 241.4L625.6 268.1L605.1 235.2Z"/>
<path class="e" d="M625.6 268.1L605.1 235.2L620.7 241.4"/>
<path fill="#f9fb0e" stroke="#f9fb0e" stroke-width="0.7" d="M620.7 241.4L641.2 239.6L625.6 268.1Z"/>
<path class="e" d="M620.7 241.4L641.2 239.6L625.6 268.1"/>
<path fill="#1389d3" stroke="#1389d3" stroke-width="0.7" d="M600.2 287.4L605.1 235.2L584.6 262.2Z"/>
<path class="e" d="M605.1 235.2L584.6 262.2L600.2 287.4"/>
<path fill="#1389d3" stroke="#1389d3" stroke-width="0.7" d="M600.2 287.4L620.7 241.4L605.1 235.2Z"/>
<path class="e" d="M600.2 287.4L620.7 241.4L605.1 235.2"/>
<path fill="#59bd8c" stroke="#59bd8c" stroke-width="0.7" d="M579.7 276.8L584.6 262.2L564.1 277.5Z"/>
<path class="e" d="M584.6 262.2L564.1 277.5L579.7 276.8"/>
<path fill="#59bd8c" stroke="#59bd8c" stroke-width="0.7" d="M579.7 276.8L600.2 287.4L584.6 262.2Z"/>
<path class="e" d="M579.7 276.8L600.2 287.4L584.6 262.2"/>
<path class="az" d="M498.8 223.8L498.8 295.1"/>
<path class="ax" d="M498.8 295.1L577.3 328.4"/>
<path class="ax" d="M577.3 328.4L679.8 302.9"/>
<path class="ax" d="M496.2 294.8L498.8 295.1"/>
<path class="ax" d="M496.2 276.98L498.8 277.28"/>
<path class="ax" d="M496.2 259.15L498.8 259.45"/>
<path class="ax" d="M496.2 241.33L498.8 241.63"/>
<path class="ax" d="M496.2 223.5L498.8 223.8"/>
<path class="ax" d="M569.6 325.13L567.08 325.76"/>
<path class="ax" d="M553.8 318.43L551.28 319.06"/>
<path class="ax" d="M538 311.73L535.48 312.36"/>
<path class="ax" d="M522.3 305.07L519.78 305.7"/>
<path class="ax" d="M506.9 298.54L504.38 299.16"/>
<path class="ax" d="M589.1 325.46L591.49 326.48"/>
<path class="ax" d="M609.5 320.39L611.89 321.4"/>
<path class="ax" d="M630 315.29L632.39 316.3"/>
<path class="ax" d="M650.5 310.19L652.89 311.2"/>
<path class="ax" d="M671 305.09L673.39 306.1"/>
<text class="u" x="495.2" y="296.3" text-anchor="end">0.56</text>
<text class="u" x="495.2" y="278.48" text-anchor="end">0.58</text>
<text class="u" x="495.2" y="260.65" text-anchor="end">0.6</text>
<text class="u" x="495.2" y="242.83" text-anchor="end">0.62</text>
<text class="u" x="495.2" y="225" text-anchor="end">0.64</text>
<text class="u" x="503.3" y="306.94" text-anchor="end">100</text>
<text class="u" x="518.7" y="313.47" text-anchor="end">10</text>
<text class="u" x="534.4" y="320.13" text-anchor="end">1</text>
<text class="u" x="550.2" y="326.83" text-anchor="end">0.1</text>
<text class="u" x="566" y="333.53" text-anchor="end">0.01</text>
<text class="u" x="591.3" y="334.36">1e-1</text>
<text class="u" x="611.7" y="329.29">1e-2</text>
<text class="u" x="632.2" y="324.19">1e-3</text>
<text class="u" x="652.7" y="319.09">1e-4</text>
<text class="u" x="673.2" y="313.99">1e-5</text>
<text class="u" transform="translate(481.2 260) rotate(-90)" text-anchor="middle">F-score (%)</text>
<text class="s" x="525.1" y="328.7" text-anchor="middle">η</text>
<text class="s" x="642.1" y="333.6" text-anchor="middle">α</text>
<text class="c" x="516.2" y="372.7" textLength="139" lengthAdjust="spacingAndGlyphs">(f) BBC (F_score)</text>
</svg>
</body></html>
